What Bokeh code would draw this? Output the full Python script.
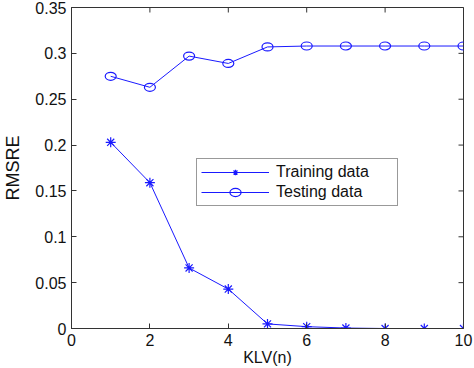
import math
from bokeh.plotting import figure
from bokeh.models import FixedTicker, Legend, LegendItem, Range1d
from bokeh.embed import file_html
from bokeh.resources import INLINE

klv = [1, 2, 3, 4, 5, 6, 7, 8, 9, 10]
training = [0.203, 0.159, 0.066, 0.043, 0.005, 0.002, 0.0005, 0.0, 0.0, 0.0]
testing = [0.275, 0.263, 0.297, 0.289, 0.307, 0.308, 0.308, 0.308, 0.308, 0.308]

x_ticks = [0, 2, 4, 6, 8, 10]
y_ticks = [0, 0.05, 0.1, 0.15, 0.2, 0.25, 0.3, 0.35]
y_tick_labels = ["0", "0.05", "0.1", "0.15", "0.2", "0.25", "0.3", "0.35"]
x_max = 10
y_max = 0.35

FONT = "Liberation Sans"
AX = "#333333"
BLUE = "#1a1aff"

p = figure(width=474, height=368, output_backend="svg", toolbar_location=None,
           x_range=Range1d(0, x_max), y_range=Range1d(0, y_max),
           min_border_left=67, min_border_right=11, min_border_top=7, min_border_bottom=38)
p.xgrid.visible = False
p.ygrid.visible = False
p.outline_line_color = AX
p.outline_line_width = 1

def style(ax):
    ax.axis_line_color = AX
    ax.major_tick_line_color = AX
    ax.major_tick_in = 5
    ax.major_tick_out = 0
    ax.minor_tick_line_color = None
    ax.major_label_text_font = FONT
    ax.major_label_text_color = "#111111"
    ax.major_label_text_font_size = "16px"
    ax.axis_label_text_font = FONT
    ax.axis_label_text_font_style = "normal"
    ax.axis_label_text_color = "#111111"

xa = p.xaxis[0]
ya = p.yaxis[0]
xa.ticker = FixedTicker(ticks=x_ticks)
ya.ticker = FixedTicker(ticks=y_ticks)
ya.major_label_overrides = {t: l for t, l in zip(y_ticks, y_tick_labels)}
style(xa)
style(ya)
xa.axis_label = "KLV(n)"
ya.axis_label = "RMSRE"
xa.axis_label_text_font_size = "16px"
ya.axis_label_text_font_size = "18px"
xa.major_label_standoff = 5
xa.axis_label_standoff = 0
ya.major_label_standoff = 5
ya.axis_label_standoff = 9

# inward ticks on the top and right frame edges
p.scatter(x_ticks, [y_max] * len(x_ticks), marker="dash", angle=math.pi / 2, size=10,
          line_color=AX, line_width=1)
p.scatter([x_max] * len(y_ticks), y_ticks, marker="dash", size=10,
          line_color=AX, line_width=1)

l1 = p.line(klv, training, line_color=BLUE, line_width=1)
m1 = p.scatter(klv, training, marker="asterisk", size=10, line_color=BLUE, line_width=1.2)
l2 = p.line(klv, testing, line_color=BLUE, line_width=1)
m2 = p.ellipse(klv, testing, width=11, height=8, width_units="screen", height_units="screen",
               fill_color=None, line_color=BLUE, line_width=1.2)

legend = Legend(items=[LegendItem(label="Training data", renderers=[l1, m1]),
                       LegendItem(label="Testing data", renderers=[l2, m2])],
                location=(125, 122))
legend.label_text_font = FONT
legend.label_text_font_size = "16px"
legend.label_text_color = "#111111"
legend.glyph_width = 68
legend.glyph_height = 14
legend.label_height = 16
legend.label_width = 117
legend.label_standoff = 7
legend.spacing = 2
legend.padding = 4
legend.margin = 0
legend.border_line_color = AX
legend.border_line_width = 1
legend.background_fill_color = "white"
legend.background_fill_alpha = 1
p.add_layout(legend, "center")

open("out.html", "w").write(file_html(p, INLINE))
